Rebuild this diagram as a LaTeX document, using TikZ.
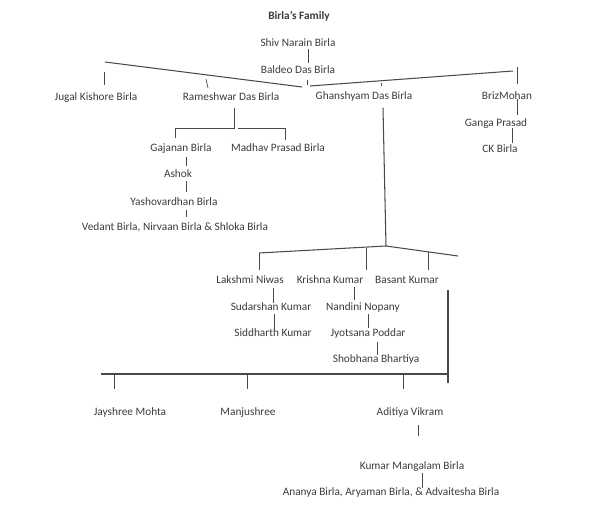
\documentclass[tikz,border=0pt]{standalone}
\usepackage{fontspec}
\setmainfont{Carlito}
\definecolor{txtc}{HTML}{3C3C3C}
\definecolor{linec}{HTML}{4A4A4A}
\begin{document}
\begin{tikzpicture}[x=1pt,y=-1pt,
 lbl/.style={font=\fontsize{11.3}{13}\selectfont, text=txtc, inner sep=0pt, anchor=base},
 ttl/.style={lbl, font=\fontsize{11.3}{13}\selectfont\bfseries},
 ln/.style={draw=linec, line width=0.7pt},
 mainln/.style={draw=linec, line width=1.05pt}]
\useasboundingbox[fill=white] (0,0) rectangle (600,510);
% ---------- text nodes ----------
\node[ttl] (title) at (299,20) {Birla’s Family};
\node[lbl] (shiv) at (298,47) {Shiv Narain Birla};
\node[lbl] (baldeo) at (298,74) {Baldeo Das Birla};
\node[lbl] (jugal) at (96,101) {Jugal Kishore Birla};
\node[lbl] (ram) at (231,101) {Rameshwar Das Birla};
\node[lbl] (ghan) at (364,100) {Ghanshyam Das Birla};
\node[lbl] (briz) at (507,100) {BrizMohan};
\node[lbl] (ganga) at (496,127) {Ganga Prasad};
\node[lbl] (ck) at (500,153) {CK Birla};
\node[lbl] (gaj) at (181,152) {Gajanan Birla};
\node[lbl] (mad) at (278,152) {Madhav Prasad Birla};
\node[lbl] (ashok) at (178,178) {Ashok};
\node[lbl] (yash) at (174,206) {Yashovardhan Birla};
\node[lbl] (vedant) at (175,231) {Vedant Birla, Nirvaan Birla \& Shloka Birla};
\node[lbl] (lak) at (250,284) {Lakshmi Niwas};
\node[lbl] (kri) at (330,284) {Krishna Kumar};
\node[lbl] (bas) at (407,284) {Basant Kumar};
\node[lbl] (sud) at (271,311) {Sudarshan Kumar};
\node[lbl] (sid) at (273,337) {Siddharth Kumar};
\node[lbl] (nan) at (363,311) {Nandini Nopany};
\node[lbl] (jyo) at (368,337) {Jyotsana Poddar};
\node[lbl] (sho) at (376,363) {Shobhana Bhartiya};
\node[lbl] (jay) at (130,416) {Jayshree Mohta};
\node[lbl] (man) at (248,416) {Manjushree};
\node[lbl] (adi) at (410,416) {Aditiya Vikram};
\node[lbl] (kmb) at (412,470) {Kumar Mangalam Birla};
\node[lbl] (ana) at (391,496) {Ananya Birla, Aryaman Birla, \& Advaitesha Birla};
% ---------- connector end points ----------
\coordinate (shivB) at (308,49);  \coordinate (baldeoT) at (308,63);
\coordinate (baldeoB) at (307,80); \coordinate (baldeoB2) at (307,85);
\coordinate (vL) at (105,62); \coordinate (vLend) at (302,87);
\coordinate (vRstart) at (310,86); \coordinate (vR) at (513,71);
\coordinate (jugT1) at (104,72); \coordinate (jugT2) at (104,85);
\coordinate (ramT1) at (206,79); \coordinate (ramT2) at (208,88);
\coordinate (ghaT1) at (381,83); \coordinate (ghaT2) at (381,86);
\coordinate (brizT1) at (517,67); \coordinate (brizT2) at (517,84);
\coordinate (brizB) at (517,99); \coordinate (gangaT) at (517,115);
\coordinate (gangaB) at (512,128); \coordinate (ckT) at (512,143);
\coordinate (ramB) at (234,108); \coordinate (ramJ) at (234,128);
\coordinate (gajC) at (175,128); \coordinate (gajT) at (175,138);
\coordinate (madS) at (238,128); \coordinate (madC) at (285,128); \coordinate (madT) at (285,140);
\coordinate (gajB) at (186,157); \coordinate (ashokT) at (186,166);
\coordinate (ashokB) at (186,181); \coordinate (yashT) at (186,192);
\coordinate (yashB) at (186,210); \coordinate (vedT) at (186,217);
\coordinate (ghanB) at (383,108); \coordinate (apex) at (386,246);
\coordinate (splL) at (259,253); \coordinate (splR) at (458,256);
\coordinate (lakT) at (259,270);
\coordinate (kriT1) at (366,248); \coordinate (kriT2) at (366,270);
\coordinate (basT1) at (428,252); \coordinate (basT2) at (428,270);
\coordinate (longT) at (448,290); \coordinate (longB) at (448,383);
\coordinate (lakB) at (273,288); \coordinate (sudT) at (273,303);
\coordinate (sudB) at (274,314); \coordinate (sidT) at (274,330);
\coordinate (kriB) at (354,287); \coordinate (nanT) at (354,300);
\coordinate (nanB) at (368,314); \coordinate (jyoT) at (368,328);
\coordinate (jyoB) at (377,342); \coordinate (shoT) at (377,355);
\coordinate (hL) at (101,374); \coordinate (hR) at (448,374);
\coordinate (jayT1) at (114,374); \coordinate (jayT2) at (114,389);
\coordinate (manT1) at (247,374); \coordinate (manT2) at (247,389);
\coordinate (adiT1) at (403,374); \coordinate (adiT2) at (403,389);
\coordinate (adiB) at (418,425); \coordinate (kmbT) at (418,436);
\coordinate (kmbB) at (422,473); \coordinate (anaT) at (422,488);
% ---------- connectors ----------
\draw[ln] (shivB) -- (baldeoT);
\draw[ln] (baldeoB) -- (baldeoB2);
\draw[mainln] (vL) -- (vLend);
\draw[mainln] (vRstart) -- (vR);
\draw[ln] (jugT1) -- (jugT2);
\draw[ln] (ramT1) -- (ramT2);
\draw[ln] (ghaT1) -- (ghaT2);
\draw[ln] (brizT1) -- (brizT2);
\draw[ln] (brizB) -- (gangaT);
\draw[ln] (gangaB) -- (ckT);
\draw[ln] (ramB) -- (ramJ) -- (gajC) -- (gajT);
\draw[ln] (madS) -- (madC) -- (madT);
\draw[ln] (gajB) -- (ashokT);
\draw[ln] (ashokB) -- (yashT);
\draw[ln] (yashB) -- (vedT);
\draw[mainln] (ghanB) -- (apex);
\draw[mainln] (splL) -- (apex) -- (splR);
\draw[ln] (splL) -- (lakT);
\draw[ln] (kriT1) -- (kriT2);
\draw[ln] (basT1) -- (basT2);
\draw[mainln] (longT) -- (longB);
\draw[ln] (lakB) -- (sudT);
\draw[ln] (sudB) -- (sidT);
\draw[ln] (kriB) -- (nanT);
\draw[ln] (nanB) -- (jyoT);
\draw[ln] (jyoB) -- (shoT);
\draw[mainln] (hL) -- (hR);
\draw[ln] (jayT1) -- (jayT2);
\draw[ln] (manT1) -- (manT2);
\draw[ln] (adiT1) -- (adiT2);
\draw[ln] (adiB) -- (kmbT);
\draw[ln] (kmbB) -- (anaT);
\end{tikzpicture}
\end{document}
